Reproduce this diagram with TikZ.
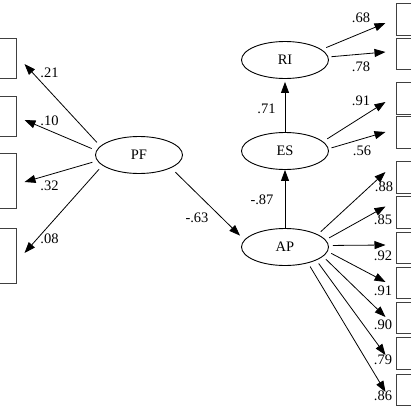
\documentclass[tikz,border=0pt]{standalone}
\usepackage{fontspec}
\setmainfont{Liberation Serif}
\usetikzlibrary{arrows.meta,shapes.geometric}
\begin{document}
\begin{tikzpicture}[x=1pt,y=-1pt,
  lat/.style={draw,ellipse,line width=0.9pt,minimum width=87pt,minimum height=37pt,inner sep=0pt,font=\fontsize{14.5}{17}\selectfont},
  ind/.style={draw=black!75,line width=1pt,minimum width=60pt,inner sep=0pt},
  coef/.style={inner sep=0pt,font=\fontsize{14.5}{17}\selectfont},
  arr/.style={-{Triangle[length=11pt,width=8pt]},line width=0.8pt}]
\useasboundingbox (0,0) rectangle (410,410);

\node[lat] (pf) at (139,155) {PF};
\node[lat] (ap) at (285,247) {AP};
\node[lat] (es) at (285,151) {ES};
\node[lat] (ri) at (285,60) {RI};

%left side:
\node[ind,minimum height=40pt] (x1) at (-14,58) {};
\node[ind,minimum height=40pt] (x2) at (-14,116) {};
\node[ind,minimum height=55pt] (x3) at (-14,180.5) {};
\node[ind,minimum height=55pt] (x4) at (-14,255.5) {};

%right side:
\foreach \i/\y in {1/19.5,2/54,3/98.5,4/132.5,5/177.5,6/212.5,7/248,8/283,9/318,10/353.5,11/390}
        \node[ind,minimum height=31.5pt] (y\i) at (426,\y) {};

\foreach \i/\a/\d in {1/167/6,2/174/4,3/188/1.5,4/196/-2.5}
        \draw[arr,shorten <=5pt] (pf.\a) -- ([shift={(8,\d)}]x\i.east);

\draw[arr,shorten <=6pt,shorten >=6pt] (pf.-22) -- (ap.170);
\draw[arr] (ap.north) -- (es.south);
\draw[arr,shorten >=3pt] (es.north) -- (ri.south);

\draw[arr,shorten <=5pt] (ri.16) -- ([shift={(-10,3.5)}]y1.west);
\draw[arr,shorten <=3pt] (ri.4) -- ([shift={(-10,-2)}]y2.west);
\draw[arr,shorten <=5pt] (es.14) -- ([shift={(-10,3.5)}]y3.west);
\draw[arr,shorten <=3pt] (es.3) -- ([shift={(-10,-0.5)}]y4.west);

\foreach \i/\a/\d in {5/21/-5.5,6/10/-6,7/2/-3,8/-6/-1,9/-14/-1,10/-23/1.5,11/-35/2}
        \draw[arr,shorten <=4pt] (ap.\a) -- ([shift={(-10,\d)}]y\i.west);

%coefficients:
\node[coef] (c1) at (49.5,73) {.21};
\node[coef] (c2) at (49.5,121) {.10};
\node[coef] (c3) at (49.5,186) {.32};
\node[coef] (c4) at (49.5,239) {.08};
\node[coef] (cpa) at (197,218) {-.63};
\node[coef] (cae) at (262,200) {-.87};
\node[coef] (cer) at (266.5,109) {.71};
\node[coef] (r1) at (361,18) {.68};
\node[coef] (r2) at (361,67) {.78};
\node[coef] (e1) at (361,101) {.91};
\node[coef] (e2) at (362,151) {.56};
\node[coef] (a1) at (384,187) {.88};
\node[coef] (a2) at (383,220) {.85};
\node[coef] (a3) at (383,256) {.92};
\node[coef] (a4) at (383,291) {.91};
\node[coef] (a5) at (383,325) {.90};
\node[coef] (a6) at (383,360) {.79};
\node[coef] (a7) at (383,396) {.86};
\end{tikzpicture}
\end{document}
